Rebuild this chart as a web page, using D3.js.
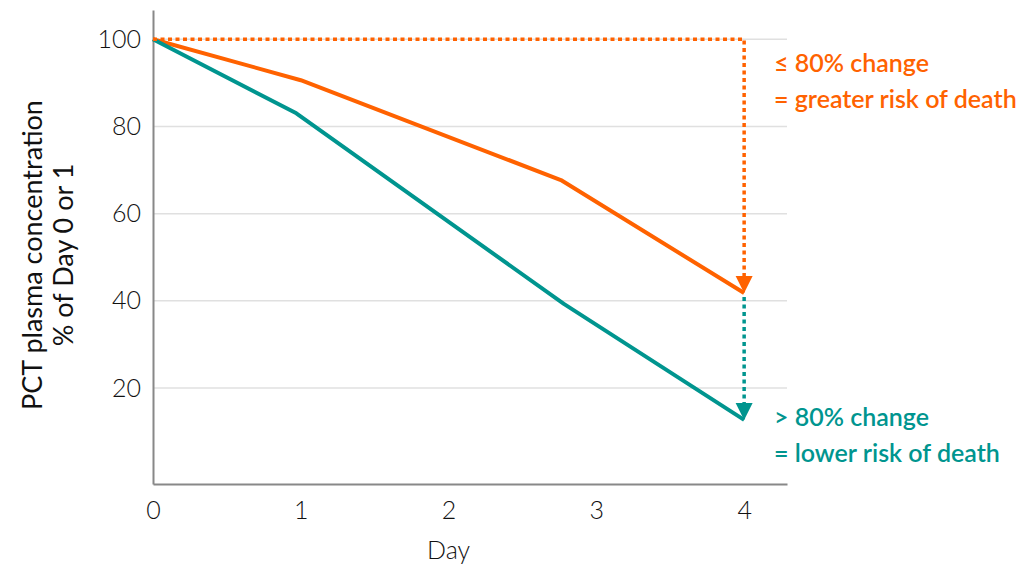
<!DOCTYPE html>
<html>
<head>
<meta charset="utf-8">
<script src="https://cdn.jsdelivr.net/npm/d3@7"></script>
<style>
  body { margin: 0; background: #fff; }
  text { font-family: "Lato", "Open Sans", sans-serif; }
</style>
</head>
<body>
<svg id="chart" width="1024" height="576"></svg>
<script>
// values
var days = [0, 1, 2, 3, 4]
var yTicks = [20, 40, 60, 80, 100]
var highPct = [{day: 0, v: 100}, {day: 1, v: 90.6}, {day: 2.76, v: 67.7}, {day: 4, v: 41.8}]
var lowPct = [{day: 0, v: 100}, {day: 0.97, v: 83}, {day: 2.78, v: 39.3}, {day: 4, v: 12.7}]
var orange = '#ff6200', teal = '#00958f'

var svg = d3.select('#chart')
var x = d3.scaleLinear().domain([0, 4.29]).range([153, 787]),
    y = d3.scaleLinear().domain([-2, 106.7]).range([484, 10])

// grid
svg.append('g').selectAll('line').data(yTicks).join('line')
    .attr('x1', x(0)).attr('x2', x(4.29))
    .attr('y1', d => y(d)).attr('y2', d => y(d))
    .attr('stroke', '#e0e0e0').attr('stroke-width', 1.5)

// axes
var yAxis = svg.append('g').attr('transform', 'translate(' + x(0) + ',0)')
    .call(d3.axisLeft(y).tickValues(yTicks).tickSize(0).tickPadding(12))
var xAxis = svg.append('g').attr('transform', 'translate(0,' + y(-2) + ')')
    .call(d3.axisBottom(x).tickValues(days).tickSize(0).tickPadding(17).tickFormat(d3.format('d')))
;[yAxis, xAxis].forEach(function(a){
    a.select('.domain').attr('stroke', '#888').attr('stroke-width', 2)
    a.selectAll('text').attr('font-size', 25).attr('fill', '#111')
        .attr('font-weight', 300).attr('font-family', 'Lato, sans-serif')
})

svg.append('text').attr('x', x(2)).attr('y', 559).attr('text-anchor', 'middle')
    .attr('font-size', 25).attr('font-weight', 300).attr('fill', '#111').text('Day')

var yt = svg.append('text').attr('transform', 'translate(0,255) rotate(-90)')
    .attr('text-anchor', 'middle').attr('font-size', 27).attr('fill', '#111')
    .attr('font-family', '"Open Sans", sans-serif')
yt.append('tspan').attr('x', 0).attr('y', 42).text('PCT plasma concentration')
yt.append('tspan').attr('x', 0).attr('y', 73).text('% of Day 0 or 1')

// lines
var line = d3.line().x(d => x(d.day)).y(d => y(d.v))
svg.append('path').datum(highPct).attr('d', line).attr('fill', 'none')
    .attr('stroke', orange).attr('stroke-width', 4).attr('stroke-linejoin', 'round')
svg.append('path').datum(lowPct).attr('d', line).attr('fill', 'none')
    .attr('stroke', teal).attr('stroke-width', 4).attr('stroke-linejoin', 'round')

// dotted arrows
function arrowHead(tipX, tipY, col){
    svg.append('path')
        .attr('d', 'M' + (tipX - 8.5) + ',' + (tipY - 17) + 'L' + (tipX + 8.5) + ',' + (tipY - 17) + 'L' + tipX + ',' + tipY + 'Z')
        .attr('fill', col)
}
var endHigh = highPct[highPct.length - 1], endLow = lowPct[lowPct.length - 1]
svg.append('path')
    .attr('d', 'M' + x(0) + ',' + y(100) + 'H' + x(4) + 'V' + (y(endHigh.v) - 15))
    .attr('fill', 'none').attr('stroke', orange).attr('stroke-width', 3.5)
    .attr('stroke-dasharray', '4,3.5')
arrowHead(x(4), y(endHigh.v), orange)
svg.append('path')
    .attr('d', 'M' + x(4) + ',' + (y(endHigh.v) + 4) + 'V' + (y(endLow.v) - 15))
    .attr('fill', 'none').attr('stroke', teal).attr('stroke-width', 3.5)
    .attr('stroke-dasharray', '4,3.5')
arrowHead(x(4), y(endLow.v), teal)

// notes
function note(lines, top, col){
    var t = svg.append('text').attr('fill', col).attr('font-size', 25)
        .attr('font-weight', 600).attr('font-family', 'Lato, sans-serif')
    lines.forEach(function(s, i){
        t.append('tspan').attr('x', 774).attr('y', top + i * 36).text(s)
    })
}
note(['\u2264 80% change', '= greater risk of death'], 72, orange)
note(['> 80% change', '= lower risk of death'], 426, teal)
</script>
</body>
</html>
